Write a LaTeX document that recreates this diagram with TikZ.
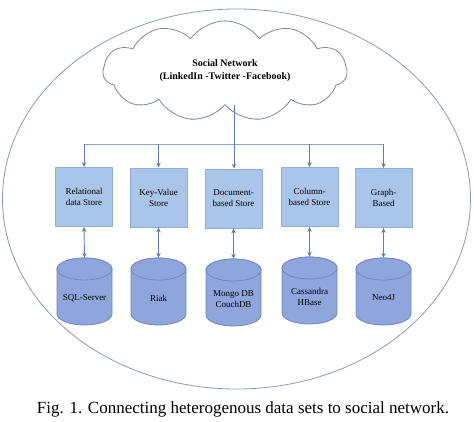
\documentclass[tikz,border=0pt]{standalone}
\usepackage{fontspec}
\setmainfont{Liberation Serif}
\usetikzlibrary{shapes.geometric,shapes.symbols,arrows.meta}
\definecolor{boxfill}{HTML}{A9C5EA}
\definecolor{boxline}{HTML}{8DAEDB}
\definecolor{cylfill}{HTML}{8FA6DC}
\definecolor{cylline}{HTML}{6F88C4}
\definecolor{arrowc}{HTML}{5F7CBC}
\definecolor{ovalc}{HTML}{8C99B5}
\definecolor{cloudc}{HTML}{7D8699}
\tikzset{
  storebox/.style={draw=boxline, fill=boxfill, line width=0.8pt, minimum width=57pt, minimum height=59pt, align=center, font=\fontsize{9}{11}\selectfont, inner sep=1pt},
  cylframe/.style={minimum width=55pt, minimum height=67pt, inner sep=0pt},
  cyltext/.style={align=center, font=\fontsize{9}{11}\selectfont, inner sep=1pt},
  cylbody/.style={draw=cylline, fill=cylfill, line width=0.8pt},
  link/.style={draw=arrowc, line width=0.9pt, -{Stealth[length=5pt,width=4.5pt]}},
  dlink/.style={draw=arrowc, line width=0.9pt, {Stealth[length=5pt,width=4.5pt]}-{Stealth[length=5pt,width=4.5pt]}},
  bus/.style={draw=boxline!80!gray, line width=0.9pt}
}
\newcommand{\dbcylinder}[4]{% name, x, top y, text
  \node[cylframe] (#1) at (#2,#3+33.5) {};
  \path[cylbody] (#2-27.5,#3+11) -- (#2-27.5,#3+56)
     arc[start angle=180,end angle=0,x radius=27.5,y radius=11]
     -- (#2+27.5,#3+11)
     arc[start angle=0,end angle=-180,x radius=27.5,y radius=11] -- cycle;
  \path[cylbody] (#2,#3+11) ellipse[x radius=27.5,y radius=11];
  \node[cyltext] (#1t) at (#2,#3+40) {#4};
}
\begin{document}
\begin{tikzpicture}[x=1pt,y=-1pt]
\useasboundingbox[fill=white] (0,0) rectangle (474,422);
% outer oval
\node[draw=ovalc, line width=0.8pt, ellipse, minimum width=468pt, minimum height=380pt] (oval) at (236.5,199) {};
% cloud
\node[cloud, cloud puffs=11, cloud puff arc=110, aspect=2.6, draw=cloudc, line width=0.8pt, fill=white, minimum width=244pt, minimum height=94pt, align=center, font=\fontsize{10}{13}\bfseries] (cloud) at (225,71) {Social Network\\(LinkedIn -Twitter -Facebook)};
% boxes
\node[storebox] (b1) at (84,197) {Relational\\data Store};
\node[storebox] (b2) at (158.5,197.5) {Key-Value\\Store};
\node[storebox] (b3) at (233.5,198.5) {Document-\\based Store};
\node[storebox] (b4) at (309.5,197) {Column-\\based Store};
\node[storebox] (b5) at (383.5,198) {Graph-\\Based};
% cylinders
\dbcylinder{c1}{84.5}{258}{SQL-Server}
\dbcylinder{c2}{158.5}{258}{Riak}
\dbcylinder{c3}{233.5}{259}{Mongo DB\\CouchDB}
\dbcylinder{c4}{309.5}{257}{Cassandra\\HBase}
\dbcylinder{c5}{383.5}{258}{Neo4J}
% bus
\coordinate (busL) at (84,144);
\coordinate (busR) at (383.5,144);
\draw[bus] (busL) -- (busR);
\draw[link] (cloud.south) ++(9,0) coordinate (cs) -- (cs |- b3.north);
\draw[link] (busL) -- (b1.north);
\draw[link] (b2.north |- busL) -- (b2.north);
\draw[link] (b4.north |- busL) -- (b4.north);
\draw[link] (busR) -- (b5.north);
% double arrows
\foreach \i in {1,...,5}{
  \draw[dlink] (b\i.south) -- (c\i.north);
}
% caption
\node[font=\fontsize{17}{19}\selectfont] (cap) at (243,409) {Fig. 1. Connecting heterogenous data sets to social network.};
\end{tikzpicture}
\end{document}
